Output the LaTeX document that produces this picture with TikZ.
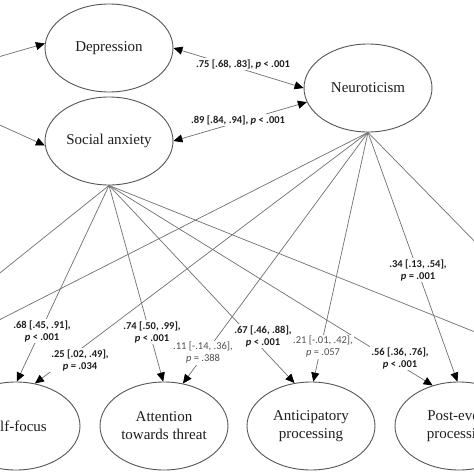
\documentclass[tikz,border=0pt]{standalone}
\usepackage{fontspec}
\setmainfont{Liberation Serif}
\newfontfamily\labfont{Carlito}
\usetikzlibrary{arrows.meta,shapes.geometric}
\definecolor{linegray}{HTML}{707070}
\definecolor{ellgray}{HTML}{555555}
\definecolor{txt}{HTML}{1E1E1E}
\definecolor{nstxt}{HTML}{505050}
\begin{document}
\begin{tikzpicture}[x=1pt,y=-1pt,
  lat/.style={ellipse,draw=ellgray,line width=0.9pt,minimum width=128pt,minimum height=88pt,inner sep=0pt,align=center,font=\fontsize{15}{18}\selectfont,text=txt},
  conn/.style={draw=linegray,line width=0.7pt},
  arr/.style={conn,-{Triangle[length=9pt,width=8pt,color=black]}},
  dbl/.style={conn,{Triangle[length=9pt,width=8pt,color=black]}-{Triangle[length=9pt,width=8pt,color=black]}},
  sig/.style={fill=white,inner sep=1pt,align=center,font=\labfont\bfseries\fontsize{10.5}{12}\selectfont,text=txt},
  ns/.style={fill=white,inner sep=1pt,align=center,font=\labfont\fontsize{10.5}{12}\selectfont,text=nstxt}]
\useasboundingbox (0,0) rectangle (474,474);
\fill[white] (0,0) rectangle (474,474);
\clip (0,0) rectangle (474,474);

% latent variables
\node[lat] (D)  at (109,48)  {Depression};
\node[lat] (SA) at (109,141) {Social anxiety};
\node[lat] (N)  at (368,88)  {Neuroticism};
\node[lat] (SF) at (16,426)  {Self-focus};
\node[lat] (AT) at (164,426) {Attention\\towards threat};
\node[lat] (AN) at (311,426) {Anticipatory\\processing};
\node[lat] (PE) at (459,426) {Post-event\\processing};

% off-canvas ends
\coordinate (inD)  at (-40,68);
\coordinate (inSA) at (-40,107);
\coordinate (SAl)  at (-60,321);
\coordinate (Nl)   at (-60,350);
\coordinate (SAr)  at (530,354);
\coordinate (Nr)   at (530,298);

% connectors
\draw[arr] (inD) -- (D.176);
\draw[arr] (inSA) -- (SA.184);
\draw[dbl] (D.east) -- (N.180);
\draw[dbl] (SA.east) -- (N.193);

\draw[conn] (SA.south) -- (SAl);
\draw[arr] (SA.south) -- (SF.89);
\draw[arr] (SA.south) -- (AT.91);
\draw[arr] (SA.south) -- (AN.111);
\draw[arr] (SA.south) -- (PE.123);
\draw[conn] (SA.south) -- (SAr);

\draw[conn] (N.south) -- (Nl);
\draw[arr] (N.south) -- (SF.66);
\draw[arr] (N.south) -- (AT.66);
\draw[arr] (N.south) -- (AN.87);
\draw[arr] (N.south) -- (PE.92);
\draw[conn] (N.south) -- (Nr);

% labels
\node[sig] (l75) at (243,64) {.75 [.68, .83], \textit{p} < .001};
\node[sig] (l89) at (238,120) {.89 [.84, .94], \textit{p} < .001};
\node[sig] (l68) at (42,331) {.68 [.45, .91],\\\textit{p} < .001};
\node[sig] (l25) at (80,360) {.25 [.02, .49],\\\textit{p} = .034};
\node[sig] (l74) at (152,332) {.74 [.50, .99],\\\textit{p} < .001};
\node[ns]  (l11) at (203,353) {.11 [-.14, .36],\\\textit{p} = .388};
\node[sig] (l67) at (263,336) {.67 [.46, .88],\\\textit{p} < .001};
\node[ns]  (l21) at (323,347) {.21 [-.01, .42],\\\textit{p} = .057};
\node[sig] (l56) at (400,358) {.56 [.36, .76],\\\textit{p} < .001};
\node[sig] (l34) at (418,270) {.34 [.13, .54],\\\textit{p} = .001};
\end{tikzpicture}
\end{document}
